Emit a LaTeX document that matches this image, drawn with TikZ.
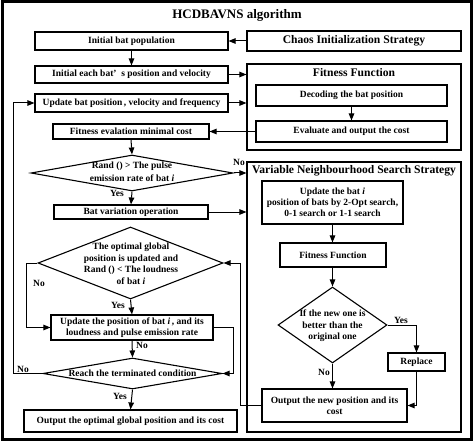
\documentclass[tikz,border=0pt]{standalone}
\usepackage{fontspec}
\setmainfont{Liberation Serif}
\usetikzlibrary{arrows.meta,shapes.geometric,positioning}
\tikzset{
  box/.style={draw, line width=1.1pt, inner sep=1pt, align=center, font=\bfseries\fontsize{9.5}{11}\selectfont},
  frame/.style={draw, line width=1.1pt, inner sep=0pt},
  dia/.style={draw, diamond, line width=1.1pt, inner sep=0pt},
  dtext/.style={align=center, inner sep=0pt, font=\bfseries\fontsize{9.5}{11.5}\selectfont},
  ttl/.style={inner sep=0pt, font=\bfseries\fontsize{11.6}{13}\selectfont},
  lbl/.style={inner sep=0pt, font=\bfseries\fontsize{9.5}{11}\selectfont},
  arr/.style={-{Triangle[length=7pt,width=5.5pt]}, line width=1pt},
  ln/.style={line width=1pt}
}
\begin{document}
\begin{tikzpicture}[x=1pt,y=-1pt]
\useasboundingbox (0,0) rectangle (474,441);
\draw[line width=3pt] (2.5,1.5) rectangle (471.5,439);
\node[inner sep=0pt, font=\bfseries\fontsize{13}{15}\selectfont] (title) at (237,15) {HCDBAVNS algorithm};

% left column
\node[box, minimum width=193, minimum height=18] (ibp) at (131.5,41) {Initial bat population};
\node[box, minimum width=214, minimum height=20] (chaos) at (354,41) {\fontsize{11.6}{13}\selectfont Chaos Initialization Strategy};
\node[box, minimum width=193, minimum height=17] (iep) at (131.5,74.5) {Initial each bat’\ \ s position and velocity};
\node[box, minimum width=193, minimum height=18] (ubp) at (131.5,103) {Update bat position\,, velocity and frequency};
\node[box, minimum width=156, minimum height=15] (fe) at (131,131.5) {Fitness evalation minimal cost};
\node[dia, minimum width=202, minimum height=36] (d1) at (132,173) {};
\node[dtext] (d1t) at (132,172) {Rand () > The pulse\\[1.5pt]emission rate of bat \textit{i}};
\node[box, minimum width=154, minimum height=14] (bv) at (131,212) {Bat variation operation};
\node[dia, minimum width=185, minimum height=72] (d2) at (130.5,263) {};
\node[dtext] (d2t) at (131,263.5) {The optimal global\\position is updated and\\Rand () < The loudness\\of bat \textit{i}};
\node[box, minimum width=162, minimum height=25] (upd) at (132,327.5) {Update the position of bat \textit{i}\,, and its\\loudness and pulse emission rate};
\node[dia, minimum width=179, minimum height=31] (d3) at (132.5,373.5) {};
\node[dtext] (d3t) at (132.5,373.5) {Reach the terminated condition};
\node[box, minimum width=213, minimum height=22] (out) at (130.5,421) {Output the optimal global position and its cost};

% fitness function group
\node[frame, minimum width=214, minimum height=86] (ffbox) at (354,107) {};
\node[ttl] (fftitle) at (354,73) {Fitness Function};
\node[box, minimum width=191, minimum height=21] (dec) at (351.5,95.5) {Decoding the bat position};
\node[box, minimum width=191, minimum height=21] (eva) at (351.5,131.5) {Evaluate and output the cost};

% VNS group
\node[frame, minimum width=214, minimum height=270] (vns) at (354,297) {};
\node[ttl] (vnstitle) at (354,171) {Variable Neighbourhood Search Strategy};
\node[box, minimum width=141, minimum height=43] (ubi) at (332.5,202.5) {Update the bat \textit{i}\\position of bats by 2-Opt search,\\0-1 search or 1-1 search};
\node[box, minimum width=106, minimum height=24] (vff) at (333,255) {Fitness Function};
\node[dia, minimum width=109, minimum height=76] (d4) at (332.5,325) {};
\node[dtext] (d4t) at (332.5,326) {If the new one is\\better than the\\original one};
\node[box, minimum width=57, minimum height=18] (rep) at (416.5,362) {Replace};
\node[box, minimum width=145, minimum height=33] (outnew) at (334.5,405.5) {Output the new position and its\\cost};

% connectors
\draw[arr] (chaos.west) -- (ibp.east);
\draw[arr] (ibp.south) -- (iep.north);
\draw[arr] (iep.east) -- (ffbox.west |- iep.east);
\draw[arr] (ubp.east) -- (ffbox.west |- ubp.east);
\draw[arr] (dec.south) -- (eva.north);
\draw[arr] (eva.west) -- (fe.east);
\draw[arr] (fe.south) -- (d1.north);
\draw[arr] (d1.east) -- (vns.west |- d1.east);
\draw[arr] (d1.south) -- (bv.north);
\draw[arr] (bv.east) -- (vns.west |- bv.east);
\draw[arr] (d2.south) -- (upd.north);
\draw[arr] (d2.west) -- ++(-11,0) |- (upd.west);
\draw[arr] (upd.east) -- ++(20,0) |- (d3.east);
\draw[arr] (upd.south) -- (d3.north);
\draw[arr] (d3.west) -- ++(-29,0) |- (ubp.west);
\draw[arr] (d3.south) -- (out.north);
\draw[arr] (outnew.west) -- ++(-21,0) |- (d2.east);
\draw[arr] (ubi.south) -- (ubi.south |- vff.north);
\draw[arr] (vff.south) -- (vff.south -| d4.north) -- (d4.north);
\draw[arr] (d4.east) -| (rep.north);
\draw[arr] (d4.south) -- (d4.south |- outnew.north);
\draw[arr] (rep.south) |- (outnew.east);

% labels
\node[lbl] (no1) at (239,162) {No};
\node[lbl] (yes1) at (117,193) {Yes};
\node[lbl] (no2) at (39,283) {No};
\node[lbl] (yes2) at (118,305) {Yes};
\node[lbl] (no3) at (142,345) {No};
\node[lbl] (no4) at (23,369) {No};
\node[lbl] (yes3) at (120,396) {Yes};
\node[lbl] (yes4) at (401,320) {Yes};
\node[lbl] (no5) at (324,372) {No};
\end{tikzpicture}
\end{document}
